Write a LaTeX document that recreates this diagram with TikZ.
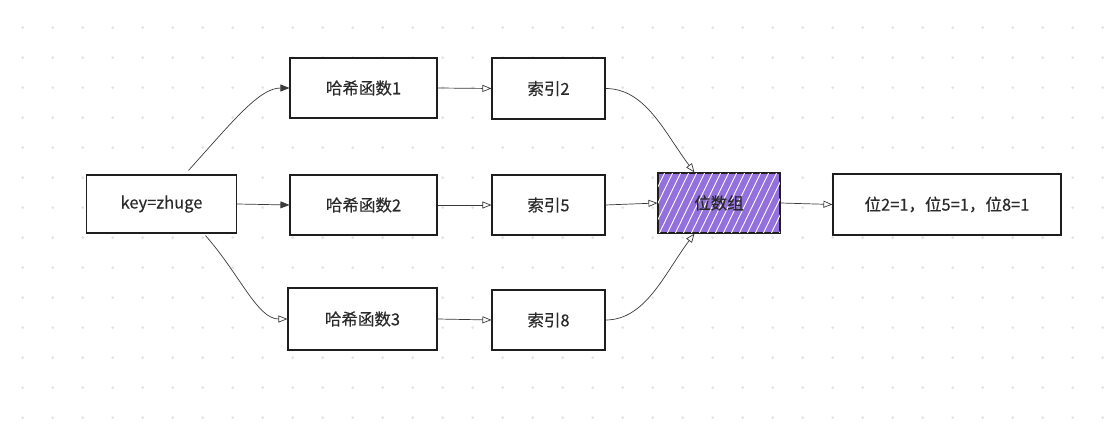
\documentclass[tikz,border=0pt]{standalone}
\usepackage{fontspec}
\setmainfont{Noto Sans CJK SC}[FakeBold=0.35]
\usetikzlibrary{arrows.meta,calc}
\definecolor{ink}{HTML}{1E1E1E}
\definecolor{txt}{HTML}{2A2A2A}
\definecolor{lnk}{HTML}{3A3A3A}
\definecolor{dotc}{HTML}{E3E3E3}
\definecolor{purp}{HTML}{9370DB}
\tikzset{
  lbl/.style={text=txt, font=\fontsize{16.5}{18}\selectfont},
  box/.style={draw=ink, line width=1.1pt, fill=white, lbl, inner sep=0pt},
  arrf/.style={draw=lnk, line width=0.7pt, -{Triangle[length=9pt,width=7pt]}},
  arro/.style={draw=lnk, line width=0.7pt, -{Triangle[open,length=9pt,width=7pt]}},
}
\begin{document}
\begin{tikzpicture}[x=1pt,y=-1pt]
\useasboundingbox (0,0) rectangle (1113,427);
\fill[white] (0,0) rectangle (1113,427);
\foreach \i in {0,...,36}{\foreach \j in {0,...,13}{\fill[dotc] (22.7+30*\i,27.7+30*\j) circle (1.5pt);}}
% nodes
\node[box, minimum width=150pt, minimum height=58pt] (key) at (161.5,204) {key=zhuge};
\node[box, minimum width=147pt, minimum height=60pt] (h1) at (363.5,88) {哈希函数1};
\node[box, minimum width=147pt, minimum height=60pt] (h2) at (363.5,205) {哈希函数2};
\node[box, minimum width=149pt, minimum height=62pt] (h3) at (362.5,319) {哈希函数3};
\node[box, minimum width=113pt, minimum height=61pt] (i2) at (548.5,88.5) {索引2};
\node[box, minimum width=113pt, minimum height=60pt] (i5) at (548.5,205) {索引5};
\node[box, minimum width=113pt, minimum height=60pt] (i8) at (548.5,320) {索引8};
\node[box, minimum width=122pt, minimum height=60pt, fill=purp] (bits) at (719,203) {};
\begin{scope}
\clip (bits.south west) rectangle (bits.north east);
\foreach \x in {600,608,...,800}{\draw[white, line width=0.9pt] (\x,240) -- (\x+36,166);}
\end{scope}
\draw[ink, line width=1.1pt] (bits.south west) rectangle (bits.north east);
\node[lbl] (bitslbl) at (bits.center) {位数组};
\node[box, minimum width=228pt, minimum height=61pt] (res) at (947,204.5) {位2=1，位5=1，位8=1};
% connectors
\draw[arrf] ($(key.north)+(27,-4)$) .. controls +(45,-50) and +(-30,0) .. (h1.west);
\draw[arrf] (key.east) -- (h2.west);
\draw[arro] ($(key.south)+(44,2)$) .. controls +(35,40) and +(-30,0) .. (h3.west);
\draw[arro] (h1.east) -- (i2.west);
\draw[arro] (h2.east) -- (i5.west);
\draw[arro] (h3.east) -- (i8.west);
\draw[arro] (i2.east) .. controls +(40,0) and +(-30,-40) .. ($(bits.north west)+(37,0)$);
\draw[arro] (i5.east) -- (bits.west);
\draw[arro] (i8.east) .. controls +(40,0) and +(-30,40) .. ($(bits.south west)+(37,0)$);
\draw[arro] (bits.east) -- (res.west);
\end{tikzpicture}
\end{document}
